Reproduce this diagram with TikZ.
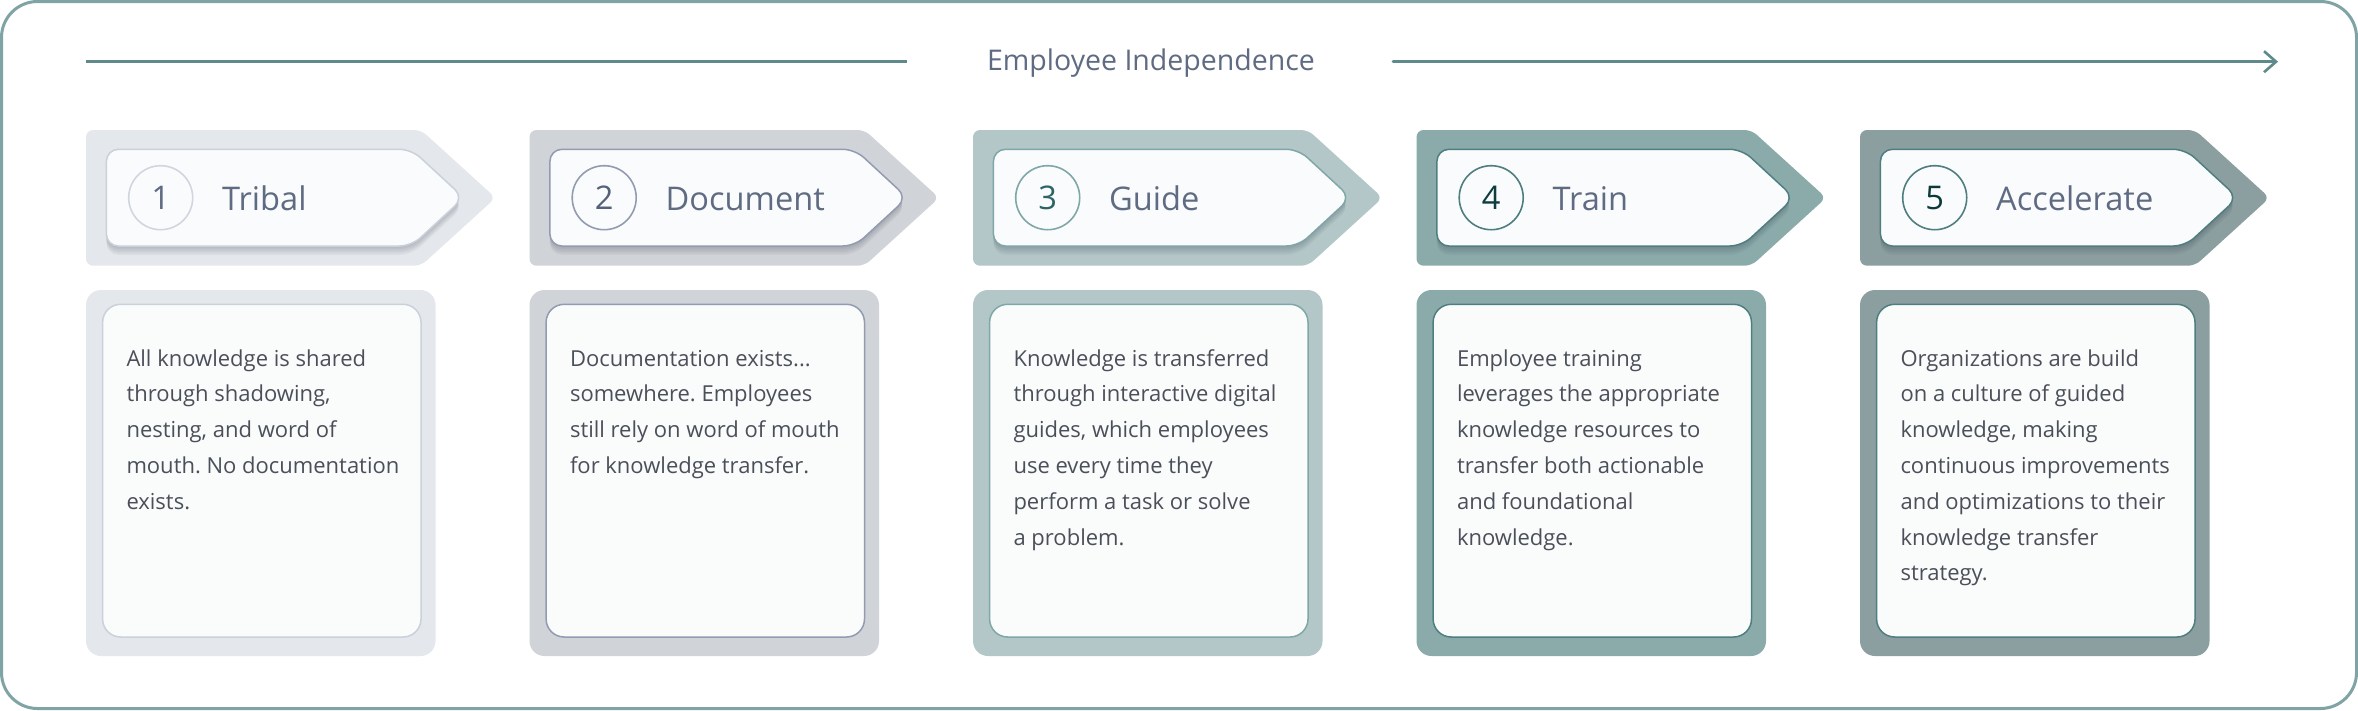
\documentclass[tikz,border=0pt]{standalone}
\usepackage{fontspec}
\setmainfont{Open Sans}
\frenchspacing
\usetikzlibrary{arrows.meta}
\definecolor{frame}{HTML}{80A3A5}
\definecolor{tline}{HTML}{5E8A8C}
\definecolor{ttl}{HTML}{5F6B82}
\definecolor{body}{HTML}{4B4F59}
\definecolor{tagfill}{HTML}{FAFBFC}
\definecolor{cardfill}{HTML}{FAFCFC}
\definecolor{shade}{HTML}{2A3340}
% outer fills
\definecolor{o1}{HTML}{E4E7EC}
\definecolor{o2}{HTML}{D0D3D8}
\definecolor{o3}{HTML}{B3C7C8}
\definecolor{o4}{HTML}{8BABAB}
\definecolor{o5}{HTML}{8B9FA0}
% strokes
\definecolor{s1}{HTML}{CBD1DA}
\definecolor{s2}{HTML}{929BB0}
\definecolor{s3}{HTML}{7FA7A8}
\definecolor{s4}{HTML}{4F7E80}
\definecolor{s5}{HTML}{4F7E80}
% circle strokes
\definecolor{c1}{HTML}{D0D5DF}
\definecolor{c2}{HTML}{929BB0}
\definecolor{c3}{HTML}{7FA7A8}
\definecolor{c4}{HTML}{4F7E80}
\definecolor{c5}{HTML}{4F7E80}
% numbers
\definecolor{n1}{HTML}{5F6B82}
\definecolor{n2}{HTML}{56617A}
\definecolor{n3}{HTML}{2D6466}
\definecolor{n4}{HTML}{0E3C3F}
\definecolor{n5}{HTML}{0E3A3C}
\tikzset{
  outerframe/.style={draw=frame, line width=3pt, rounded corners=36pt},
  tlinestyle/.style={draw=tline, line width=2.6pt},
  headtext/.style={font={\fontsize{28.5pt}{34pt}\selectfont}, text=ttl, inner sep=0pt, anchor=base},
  numcircle/.style={circle, line width=1.6pt, minimum size=64pt, inner sep=0pt, font={\fontsize{32.6pt}{39pt}\selectfont}},
  tagtitle/.style={font={\fontsize{32.6pt}{39pt}\selectfont}, text=ttl, inner sep=0pt, anchor=base west},
  bodytext/.style={font={\fontsize{22pt}{35.8pt}\selectfont\frenchspacing}, text=body, inner sep=0pt, anchor=base west},
  shadowlayer/.style={fill=shade, fill opacity=0.045, rounded corners=12pt}
}
\newcommand\TagPath{(20.4,149.3) -- (325.4,149.3) -- (377.8,197.7) -- (325.4,246) -- (20.4,246) -- cycle}
\newcommand\StageBlock[3]{%
  \begin{scope}[shift={(86+443.5*#1-443.5,0)}]
    \fill[o#1, rounded corners=7pt] (0,130) -- (335,130) -- (409.6,197.8) -- (335,265.7) -- (0,265.7) -- cycle;
    \foreach \d in {1.5,3,4.5,6,7.5,9}{
      \path[shadowlayer, shift={(0,\d)}] \TagPath;
    }
    \path[fill=tagfill, draw=s#1, line width=1.5pt, rounded corners=12pt] \TagPath;
    \node[numcircle, draw=c#1, text=n#1] (num#1) at (74.7,197.7) {#1};
    \node[tagtitle] (title#1) at (136,210) {#2};
    \fill[o#1, rounded corners=15pt] (0,290) rectangle (349.5,656);
    \draw[fill=cardfill, draw=s#1, line width=1.5pt, rounded corners=18pt] (16.6,304.3) rectangle (335,637);
    \node[bodytext] (text#1) at (40.3,366) {\parbox[t]{300pt}{\raggedright\frenchspacing #3}};
  \end{scope}
}
\begin{document}
\begin{tikzpicture}[x=1pt,y=-1pt]
\useasboundingbox (0,0) rectangle (2358,710);
\fill[white] (0,0) rectangle (2358,710);
\draw[outerframe] (1.5,1.5) rectangle (2356.5,708.5);
% timeline
\coordinate (tl0) at (86,61.7);
\coordinate (tl1) at (907,61.7);
\coordinate (tr0) at (1393,61.7);
\coordinate (tr1) at (2278,61.7);
\node[headtext] (head) at (1151,70) {Employee Independence};
\draw[tlinestyle] (tl0) -- (tl1);
\draw[tlinestyle, line cap=round, -{Straight Barb[length=12pt,width=21pt,line width=2.6pt]}] (tr0) -- (tr1);
% stages
\StageBlock{1}{Tribal}{All knowledge is shared\\through shadowing,\\nesting, and word of\\mouth. No documentation\\exists.}
\StageBlock{2}{Document}{Documentation exists...\\somewhere. Employees\\still rely on word of mouth\\for knowledge transfer.}
\StageBlock{3}{Guide}{Knowledge is transferred\\through interactive digital\\guides, which employees\\use every time they\\perform a task or solve\\a problem.}
\StageBlock{4}{Train}{Employee training\\leverages the appropriate\\knowledge resources to\\transfer both actionable\\and foundational\\knowledge.}
\StageBlock{5}{Accelerate}{Organizations are build\\on a culture of guided\\knowledge, making\\continuous improvements\\and optimizations to their\\knowledge transfer\\strategy.}
\end{tikzpicture}
\end{document}
